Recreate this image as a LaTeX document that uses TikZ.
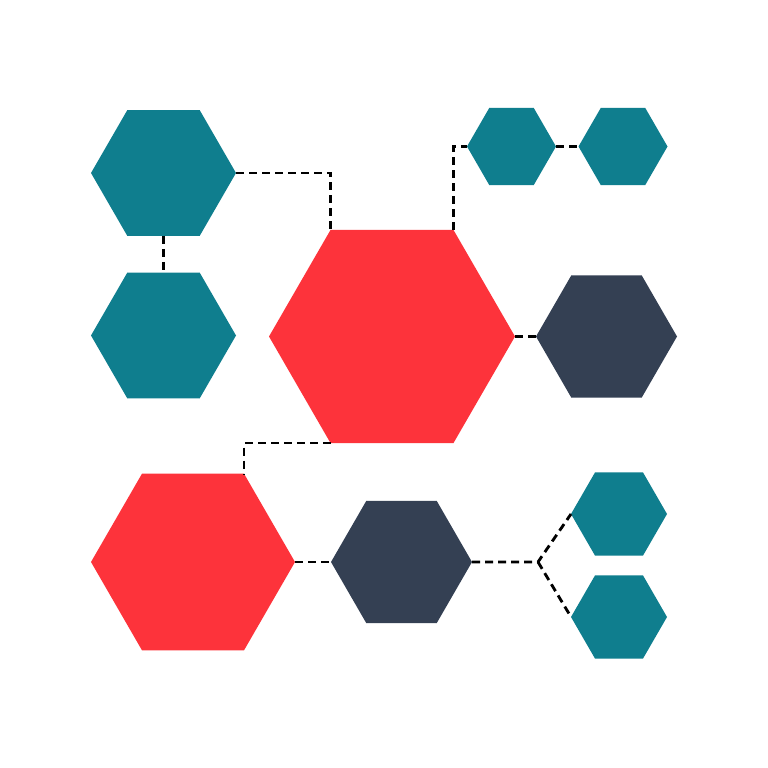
\documentclass[tikz,border=0pt]{standalone}
\usetikzlibrary{shapes.geometric}
\definecolor{hexteal}{RGB}{15,126,142}
\definecolor{hexred}{RGB}{253,51,59}
\definecolor{hexnavy}{RGB}{52,64,83}
\tikzset{
    hexa/.style={regular polygon, regular polygon sides=6, minimum size=#1*0.3pt, inner sep=0pt, outer sep=0pt, draw=none},
    link/.style={draw=black, line width=0.85pt, dash pattern=on 2.4pt off 1.5pt}
}
\begin{document}
\begin{tikzpicture}[x=0.3pt,y=-0.3pt]
    \useasboundingbox[fill=white] (0,0) rectangle (768,768);
    % hexagons
    \node[hexa=145, fill=hexteal] (a1) at (163.5,173) {};
    \node[hexa=145, fill=hexteal] (a2) at (163.5,335.5) {};
    \node[hexa=246, fill=hexred] (r1) at (392,336.5) {};
    \node[hexa=141, fill=hexnavy] (d1) at (606.5,336.5) {};
    \def\ts{(511.5,146.5),(623,146.5)}
    \foreach \t [count=\i from 1] in \ts {\node[hexa=89, fill=hexteal] (t\i) at \t {};}
    \node[hexa=204, fill=hexred] (r2) at (193,562) {};
    \node[hexa=141, fill=hexnavy] (d2) at (401.5,562) {};
    \node[hexa=96, fill=hexteal] (t3) at (619,514) {};
    \node[hexa=96, fill=hexteal] (t4) at (619,617) {};
    \coordinate (j) at (538,562);
    % links
    \draw[link] (a1.0) -| (r1.120);
    \draw[link] (a1.270) -- (a2.90);
    \draw[link] (r1.60) |- (t1.180);
    \draw[link] (t1.0) -- (t2.180);
    \draw[link] (r1.0) -- (d1.180);
    \draw[link] (r1.240) -| (r2.60);
    \draw[link] (r2.0) -- (d2.180);
    \draw[link] (d2.0) -- (j) -- (t3.180);
    \draw[link] (j) -- (t4.180);
\end{tikzpicture}
\end{document}
